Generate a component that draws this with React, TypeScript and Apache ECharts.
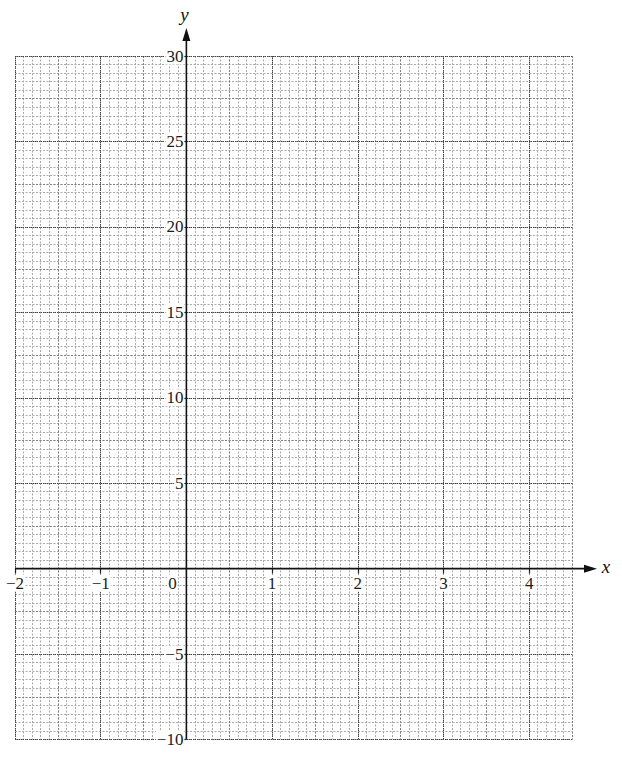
import React, { useEffect, useRef } from "react";
import * as echarts from "echarts";

const X_MIN = -2;
const X_MAX = 4.5;
const Y_MIN = -10;
const Y_MAX = 30;
const xTickValues = [-2, -1, 1, 2, 3, 4];
const xLabelValues = [-2, -1, 0, 1, 2, 3, 4];
const yTickValues = [-10, -5, 5, 10, 15, 20, 25, 30];
const yLabelValues = [-10, -5, 5, 10, 15, 20, 25, 30];
const X_MINOR = 0.1;
const X_MID = 0.5;
const X_MAJOR = 1;
const Y_MINOR = 0.5;
const Y_MID = 2.5;
const Y_MAJOR = 5;

const FONT = "Liberation Serif";
const fmt = (v: number) => (v < 0 ? "\u2212" + Math.abs(v) : String(v));
const labelRich = {
  a: { backgroundColor: "#fff", padding: [0, 1], fontFamily: FONT, fontSize: 17, color: "#1a1a1a" },
  s: { width: 28 },
};

const gridAxis = (interval: number, min: number, max: number, color: string, dash: number[], z: number) => ({
  type: "value",
  min,
  max,
  interval,
  z,
  axisLine: { show: false, onZero: false },
  axisTick: { show: false },
  axisLabel: { show: false },
  splitLine: { show: true, lineStyle: { color, width: 1, type: dash } },
});

export default function App() {
  const ref = useRef<HTMLDivElement>(null);
  useEffect(() => {
    if (!ref.current) return;
    const chart = echarts.init(ref.current, undefined, { renderer: "svg" });
    const build = (xOffset: number, yOffset: number) => ({
      animation: false,
      grid: { left: 15, right: 50, top: 56, bottom: 17.5, containLabel: false, outerBoundsMode: "none" },
      xAxis: [
        {
          type: "value",
          min: X_MIN,
          max: X_MAX,
          interval: X_MAJOR,
          z: 5,
          position: "bottom",
          offset: xOffset,
          axisLine: { show: false, onZero: false },
          axisTick: { show: true, length: 5, customValues: xTickValues, lineStyle: { color: "#222", width: 1.2 } },
          axisLabel: {
            show: true,
            customValues: xLabelValues,
            margin: 6,
            fontFamily: FONT,
            fontSize: 17,
            formatter: (v: number) => (v === 0 ? "{a|0}{s|}" : `{a|${fmt(v)}}`),
            rich: labelRich,
          },
          splitLine: { show: true, lineStyle: { color: "#444", width: 1, type: [1, 1] } },
        },
        gridAxis(X_MINOR, X_MIN, X_MAX, "#aaaaaa", [2, 1.5], 1),
        gridAxis(X_MID, X_MIN, X_MAX, "#808080", [2, 1.5], 2),
      ],
      yAxis: [
        {
          type: "value",
          min: Y_MIN,
          max: Y_MAX,
          interval: Y_MAJOR,
          z: 5,
          position: "left",
          offset: yOffset,
          axisLine: { show: false, onZero: false },
          axisTick: { show: true, length: 6, customValues: yTickValues, lineStyle: { color: "#222", width: 1.2 } },
          axisLabel: {
            show: true,
            customValues: yLabelValues,
            margin: 2,
            fontFamily: FONT,
            fontSize: 17,
            formatter: (v: number) => `{a|${fmt(v)}}`,
            rich: labelRich,
          },
          splitLine: { show: true, lineStyle: { color: "#444", width: 1, type: [1, 1] } },
        },
        gridAxis(Y_MINOR, Y_MIN, Y_MAX, "#aaaaaa", [2, 1.5], 1),
        gridAxis(Y_MID, Y_MIN, Y_MAX, "#808080", [2, 1.5], 2),
      ],
      series: [],
    });
    chart.setOption(build(0, 0));

    const o = chart.convertToPixel({ gridIndex: 0 }, [0, 0]) as number[];
    const l = chart.convertToPixel({ gridIndex: 0 }, [X_MIN, Y_MIN]) as number[];
    const r = chart.convertToPixel({ gridIndex: 0 }, [X_MAX, Y_MAX]) as number[];
    const ox = o[0], oy = o[1];
    // move the labelled axes onto the origin lines
    chart.setOption(build(-(l[1] - oy), -(ox - l[0])));

    const xEnd = r[0] + 25;
    const yTop = r[1] - 28;
    const stroke = { stroke: "#111", lineWidth: 1.6 };
    chart.setOption({
      graphic: [
        { type: "line", z: 10, shape: { x1: l[0], y1: oy, x2: xEnd - 8, y2: oy }, style: stroke },
        { type: "polygon", z: 10, shape: { points: [[xEnd, oy], [xEnd - 13, oy - 4], [xEnd - 13, oy + 4]] }, style: { fill: "#111" } },
        { type: "line", z: 10, shape: { x1: ox, y1: l[1], x2: ox, y2: yTop + 8 }, style: stroke },
        { type: "polygon", z: 10, shape: { points: [[ox, yTop], [ox - 4, yTop + 13], [ox + 4, yTop + 13]] }, style: { fill: "#111" } },
        { type: "text", z: 10, x: xEnd + 9, y: oy - 2, style: { text: "x", font: `italic 19px ${FONT}`, fill: "#111", align: "center", verticalAlign: "middle" } },
        { type: "text", z: 10, x: ox - 2, y: yTop - 14, style: { text: "y", font: `italic 19px ${FONT}`, fill: "#111", align: "center", verticalAlign: "middle" } },
      ],
    });
    return () => chart.dispose();
  }, []);
  return <div ref={ref} style={{ position: "fixed", left: 0, top: 0, width: 622, height: 757, background: "#fff" }} />;
}
